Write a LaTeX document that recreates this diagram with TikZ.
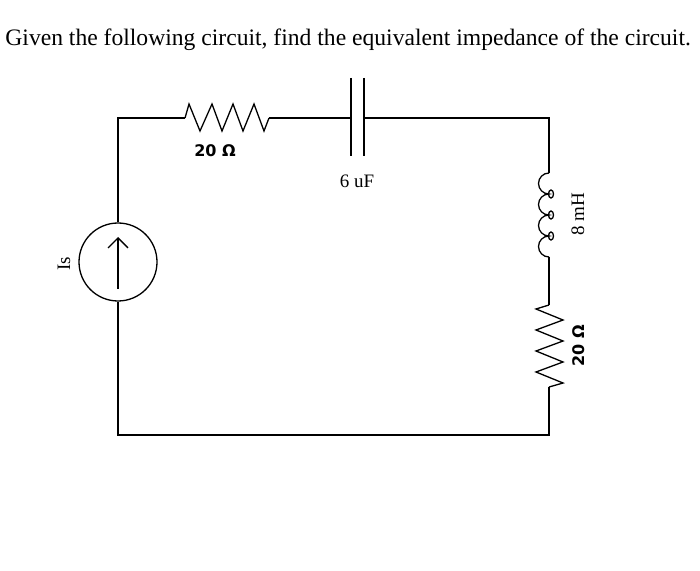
\documentclass[tikz,border=0pt]{standalone}
\usepackage{fontspec}
\setmainfont{Liberation Serif}
\newfontfamily\lsans{DejaVu Sans}
\usetikzlibrary{arrows.meta}
\begin{document}
\begin{tikzpicture}[x=0.5pt,y=-0.5pt,wire/.style={line width=0.65pt}]
\useasboundingbox (0,0) rectangle (700,571);
\node[font=\fontsize{11.8}{14}\selectfont,anchor=west,inner sep=0] (title) at (5,40) {Given the following circuit, find the equivalent impedance of the circuit.};
\coordinate (tl) at (118,118); \coordinate (tr) at (549,118);
\coordinate (bl) at (118,435); \coordinate (br) at (549,435);
\coordinate (r1a) at (185,118); \coordinate (r1b) at (269,118);
\coordinate (c1) at (351,118); \coordinate (c2) at (364,118);
\coordinate (l1) at (549,173); \coordinate (l2) at (549,257);
\coordinate (r2a) at (549,305); \coordinate (r2b) at (549,387);
\node[circle,draw,line width=0.65pt,minimum size=39pt,inner sep=0] (src) at (118,262) {};
\draw[wire] (src.north) -- (tl) -- (r1a);
\draw[wire] (r1a) -- (189,104) -- (200,131) -- (212,104) -- (222,131) -- (233,104) -- (243,131) -- (254,104) -- (264,131) -- (r1b);
\draw[wire] (r1b) -- (c1);
\draw[wire] (351,78) -- (351,156);
\draw[wire] (364,78) -- (364,156);
\draw[wire] (c2) -- (tr) -- (l1);
\draw[wire] (l1) \foreach \i in {0,1,2,3} { arc[start angle=-90,end angle=-270,radius=10.5] };
\foreach \y in {194,215,236} \draw[wire] (551,\y) ellipse[x radius=2.5,y radius=4];
\draw[wire] (l2) -- (r2a);
\draw[wire] (r2a) -- (536,309) -- (563,320) -- (536,330) -- (563,341) -- (536,351) -- (563,362) -- (536,372) -- (563,383) -- (r2b);
\draw[wire] (r2b) -- (br) -- (bl) -- (src.south);
\draw[line width=0.65pt,-{Straight Barb[length=5pt]}] (118,289) -- (118,237);
\node[font=\lsans\fontsize{8}{9}\selectfont\bfseries] (lr1) at (215,151) {20 Ω};
\node[font=\fontsize{9.5}{11}\selectfont] (lc) at (357,181) {6 uF};
\node[font=\fontsize{9.5}{11}\selectfont,rotate=90] (ll) at (578,214) {8 mH};
\node[font=\lsans\fontsize{8}{9}\selectfont\bfseries,rotate=90] (lr2) at (579,346) {20 Ω};
\node[font=\fontsize{9.5}{11}\selectfont,rotate=90] (ls) at (64,264) {Is};
\end{tikzpicture}
\end{document}
